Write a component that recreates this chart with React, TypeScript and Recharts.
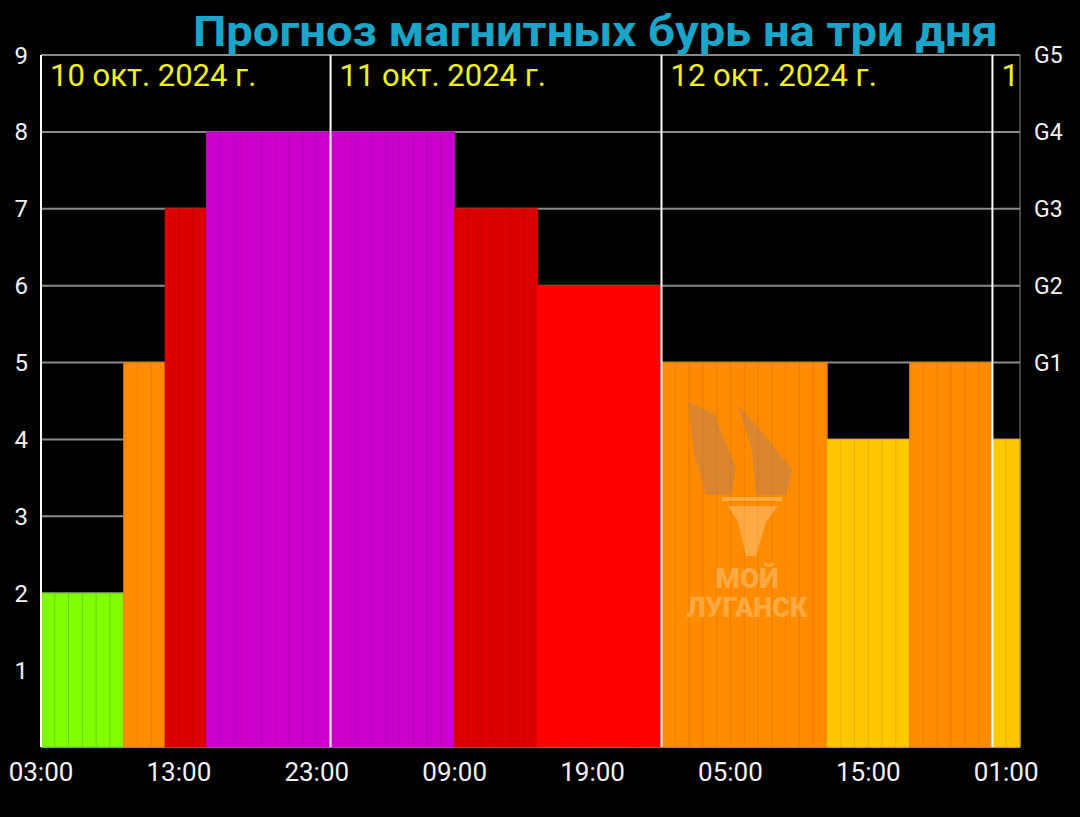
import React from "react";
import {
  Bar,
  ComposedChart,
  CartesianGrid,
  Cell,
  Line,
  ReferenceLine,
  XAxis,
  YAxis,
} from "recharts";

const WIDTH = 1080;
const HEIGHT = 817;
const RIGHT_AXIS_W = 60;
const LEFT_AXIS_W = 41;
const PLOT_RIGHT = WIDTH - RIGHT_AXIS_W;

// hourly Kp forecast, starting 10 Oct 03:00
const START_HOUR = 3;
const KP = [
  // 10 Oct 03..23
  2, 2, 2, 2, 2, 2, 5, 5, 5, 7, 7, 7, 8, 8, 8, 8, 8, 8, 8, 8, 8,
  // 11 Oct 00..23
  8, 8, 8, 8, 8, 8, 8, 8, 8, 7, 7, 7, 7, 7, 7, 6, 6, 6, 6, 6, 6, 6, 6, 6,
  // 12 Oct 00..23
  5, 5, 5, 5, 5, 5, 5, 5, 5, 5, 5, 5, 4, 4, 4, 4, 4, 4, 5, 5, 5, 5, 5, 5,
  // 13 Oct 00..01
  4, 4,
];

const X_TICKS = [0, 10, 20, 30, 40, 50, 60, 70];
const X_TICK_LABELS = ["03:00", "13:00", "23:00", "09:00", "19:00", "05:00", "15:00", "01:00"];
const Y_TICKS = [1, 2, 3, 4, 5, 6, 7, 8, 9];
const G_TICKS = [5, 6, 7, 8, 9];
const G_LABELS = ["G1", "G2", "G3", "G4", "G5"];

const DAY_STARTS = [0, 21, 45, 69];
const DAY_LABELS = ["10 окт. 2024 г.", "11 окт. 2024 г.", "12 окт. 2024 г.", "13 окт. 2024 г."];

const KP_FILL: Record<number, string> = {
  2: "#80ff00",
  4: "#ffc800",
  5: "#ff8c00",
  6: "#ff0000",
  7: "#dc0000",
  8: "#cc00cc",
};
const KP_EDGE: Record<number, string> = {
  2: "#6ad800",
  4: "#ecb400",
  5: "#e88000",
  6: "#ff0000",
  7: "#c80000",
  8: "#bb00bb",
};

const data = KP.map((kp, i) => ({
  i,
  h: String((START_HOUR + i) % 24).padStart(2, "0") + ":00",
  kp,
}));

function DayLabel({ viewBox, text }: any) {
  const x = viewBox?.x ?? 0;
  const y = viewBox?.y ?? 0;
  return (
    <svg x={x} y={y} width={Math.max(0, PLOT_RIGHT - x)} height={50} overflow="hidden">
      <text x={9} y={31} fill="#f2f21e" fontSize={31} fontFamily="Roboto">
        {text}
      </text>
    </svg>
  );
}

function GTick({ x, y, payload }: any) {
  const idx = G_TICKS.indexOf(payload?.value);
  return (
    <text x={x} y={y} dy="0.355em" fill="#f2f2f2" fontSize={23} fontFamily="Roboto" textAnchor="start">
      {G_LABELS[idx] ?? ""}
    </text>
  );
}

export default function App() {
  return (
    <div style={{ position: "absolute", left: 0, top: 0, width: WIDTH, height: HEIGHT, background: "#000" }}>
      <ComposedChart
        width={WIDTH}
        height={HEIGHT}
        data={data}
        margin={{ top: 55, right: 0, bottom: 0, left: 0 }}
        barCategoryGap={0}
        barGap={0}
        style={{ fontFamily: "Roboto" }}
      >
        <CartesianGrid vertical={false} stroke="#8a8a8a" strokeWidth={2} xAxisId="num" yAxisId="left" />
        <XAxis xAxisId="cat" dataKey="h" hide height={0} />
        <XAxis
          xAxisId="num"
          dataKey="i"
          type="number"
          domain={[0, KP.length]}
          ticks={X_TICKS}
          tickFormatter={(v: number) => X_TICK_LABELS[X_TICKS.indexOf(v)] ?? ""}
          height={70}
          tickSize={0}
          tickMargin={16}
          tick={{ fill: "#f2f2f2", fontSize: 26 }}
          axisLine={false}
        />
        <YAxis
          yAxisId="left"
          domain={[0, 9]}
          ticks={Y_TICKS}
          width={LEFT_AXIS_W}
          tickSize={0}
          tickMargin={13}
          tick={{ fill: "#f2f2f2", fontSize: 24 }}
          axisLine={{ stroke: "#ffffff", strokeWidth: 2 }}
        />
        <YAxis
          yAxisId="right"
          orientation="right"
          dataKey="kp"
          domain={[0, 9]}
          ticks={G_TICKS}
          width={RIGHT_AXIS_W}
          tickSize={0}
          tickMargin={14}
          tick={<GTick />}
          axisLine={{ stroke: "#8a8a8a", strokeWidth: 1 }}
        />
        <Bar dataKey="kp" xAxisId="cat" yAxisId="left" isAnimationActive={false}>
          {data.map((d) => (
            <Cell key={d.i} fill={KP_FILL[d.kp]} stroke={KP_EDGE[d.kp]} strokeWidth={1} />
          ))}
        </Bar>
        <Line
          dataKey="kp"
          xAxisId="cat"
          yAxisId="right"
          stroke="none"
          dot={false}
          activeDot={false}
          isAnimationActive={false}
        />
        {DAY_STARTS.map((s, k) => (
          <ReferenceLine
            key={s}
            x={s}
            xAxisId="num"
            yAxisId="left"
            stroke="#ffffff"
            strokeWidth={2}
            label={<DayLabel text={DAY_LABELS[k]} />}
          />
        ))}
      </ComposedChart>
      <svg
        width={WIDTH}
        height={HEIGHT}
        style={{ position: "absolute", left: 0, top: 0, pointerEvents: "none" }}
      >
        <text
          x={193}
          y={46}
          fill="#1ba5c9"
          fontSize={43}
          fontWeight={700}
          fontFamily="Roboto"
          textLength={805}
          lengthAdjust="spacingAndGlyphs"
        >
          Прогноз магнитных бурь на три дня
        </text>
        <g opacity={0.35}>
          <polygon points="688,402 714,414 736,468 732,495 706,495 694,452" fill="#9a7a8a" />
          <polygon points="738,405 762,432 792,470 786,495 756,495 752,450" fill="#9a7a8a" />
          <rect x={722} y={497} width={60} height={4} fill="#ffe0c0" />
          <polygon points="728,506 778,506 766,522 756,556 746,556 738,522" fill="#ffe0c0" />
          <text x={747} y={588} textAnchor="middle" fill="#ffe0c0" fontSize={28} fontWeight={900} fontFamily="Roboto">
            МОЙ
          </text>
          <text x={747} y={617} textAnchor="middle" fill="#ffe0c0" fontSize={27} fontWeight={900} fontFamily="Roboto">
            ЛУГАНСК
          </text>
        </g>
      </svg>
    </div>
  );
}
